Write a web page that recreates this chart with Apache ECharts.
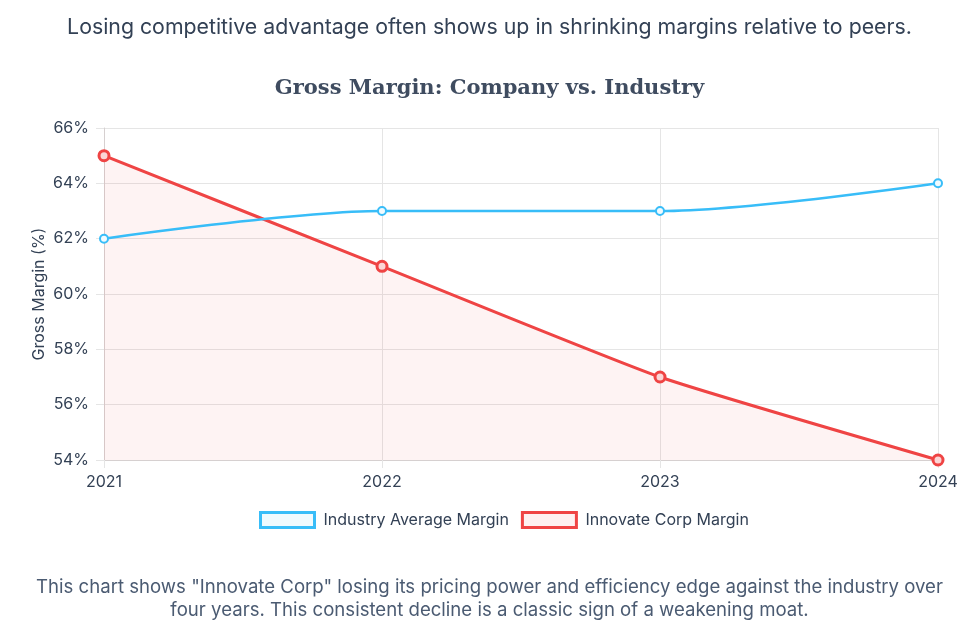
<!DOCTYPE html>
<html>
<head>
<meta charset="utf-8">
<script src="https://cdn.jsdelivr.net/npm/echarts@6/dist/echarts.min.js"></script>
<style>
  html, body { margin: 0; padding: 0; background: #fff; }
  #chart { width: 979px; height: 636px; }
</style>
</head>
<body>
<div id="chart"></div>
<script>
// data
const years = ['2021', '2022', '2023', '2024'];
const industryMargin = [62, 63, 63, 64];
const companyMargin = [65, 61, 57, 54];
const yTicks = [54, 56, 58, 60, 62, 64, 66];

const blue = '#38bdf8';
const red = '#ef4444';
const gridColor = '#e5e5e5';
const textColor = '#334155';

const captionLines = [
    'This chart shows "Innovate Corp" losing its pricing power and efficiency edge against the industry over',
    'four years. This consistent decline is a classic sign of a weakening moat.'
];

const chart = echarts.init(document.getElementById('chart'));

chart.setOption({
    animation: false,
    textStyle: { fontFamily: 'Inter' },
    title: [
        {
            text: 'Losing competitive advantage often shows up in shrinking margins relative to peers.',
            left: 'center',
            top: 12,
            textStyle: { fontFamily: 'Inter', fontSize: 21.3, fontWeight: 'normal', color: textColor }
        },
        {
            text: 'Gross Margin: Company vs. Industry',
            left: 'center',
            top: 73,
            textStyle: { fontFamily: 'DejaVu Serif', fontSize: 21, fontWeight: 'bold', color: '#3f4c60' }
        }
    ],
    graphic: captionLines.map((line, i) => ({
        type: 'text',
        left: 'center',
        top: 578 + i * 23,
        style: { text: line, font: '18.6px Inter', fill: '#4b5b72' }
    })),
    legend: {
        bottom: 102,
        left: 254,
        itemWidth: 54,
        itemHeight: 15,
        itemGap: 12,
        icon: 'rect',
        textStyle: { fontFamily: 'Inter', fontSize: 16, color: textColor, padding: [0, 0, 0, 4] },
        data: [
            { name: 'Industry Average Margin', itemStyle: { color: 'rgba(56,189,248,0.08)', borderColor: blue, borderWidth: 3 } },
            { name: 'Innovate Corp Margin', itemStyle: { color: 'rgba(239,68,68,0.08)', borderColor: red, borderWidth: 3 } }
        ]
    },
    grid: { left: 104, right: 41, top: 128, bottom: 176 },
    xAxis: {
        type: 'category',
        data: years,
        boundaryGap: false,
        axisLine: { show: true, lineStyle: { color: '#d6d0d0' } },
        axisTick: { show: true, length: 8, lineStyle: { color: gridColor } },
        splitLine: { show: true, lineStyle: { color: gridColor } },
        axisLabel: { fontFamily: 'Inter', fontSize: 16, color: textColor, margin: 14 }
    },
    yAxis: {
        type: 'value',
        min: yTicks[0],
        max: yTicks[yTicks.length - 1],
        interval: 2,
        name: 'Gross Margin (%)',
        nameLocation: 'middle',
        nameGap: 57,
        nameMoveOverlap: false,
        nameTextStyle: { fontFamily: 'Inter', fontSize: 16, color: textColor },
        axisLine: { show: true, lineStyle: { color: '#d6d0d0' } },
        axisTick: { show: true, length: 8, lineStyle: { color: gridColor } },
        splitLine: { show: true, lineStyle: { color: gridColor } },
        axisLabel: { fontFamily: 'Inter', fontSize: 16, color: textColor, margin: 15, formatter: '{value}%' }
    },
    series: [
        {
            name: 'Industry Average Margin',
            type: 'line',
            data: industryMargin,
            smooth: 0.3,
            symbol: 'circle',
            symbolSize: 8,
            lineStyle: { color: blue, width: 2.5 },
            itemStyle: { color: '#f0fbff', borderColor: blue, borderWidth: 2 },
            z: 3
        },
        {
            name: 'Innovate Corp Margin',
            type: 'line',
            data: companyMargin,
            smooth: 0.15,
            symbol: 'circle',
            symbolSize: 10,
            lineStyle: { color: red, width: 3 },
            itemStyle: { color: '#fbd6d6', borderColor: red, borderWidth: 3 },
            areaStyle: { color: 'rgba(239,68,68,0.09)', origin: 'start' },
            z: 2
        }
    ]
});
</script>
</body>
</html>
